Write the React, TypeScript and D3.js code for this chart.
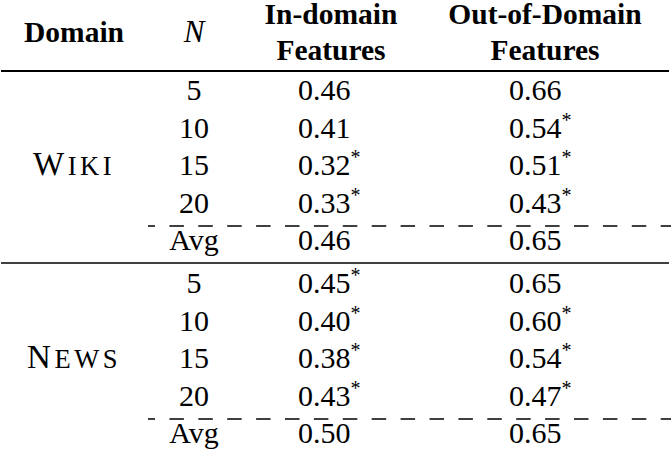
import React from 'react';
import * as d3 from 'd3';

const domains = ['Wiki', 'News'];
const nLabels = ['5', '10', '15', '20', 'Avg'];
const wikiInDomain = [0.46, 0.41, 0.32, 0.33, 0.46];
const wikiInDomainSig = [false, false, true, true, false];
const wikiOutDomain = [0.66, 0.54, 0.51, 0.43, 0.65];
const wikiOutDomainSig = [false, true, true, true, false];
const newsInDomain = [0.45, 0.40, 0.38, 0.43, 0.50];
const newsInDomainSig = [true, true, true, true, false];
const newsOutDomain = [0.65, 0.60, 0.54, 0.47, 0.65];
const newsOutDomainSig = [false, true, true, true, false];
const headerLines = [['Domain'], ['N'], ['In-domain', 'Features'], ['Out-of-Domain', 'Features']];

const columns = ['domain', 'n', 'in', 'out'];
const blocks = [
  { name: domains[0], inVals: wikiInDomain, inSig: wikiInDomainSig, outVals: wikiOutDomain, outSig: wikiOutDomainSig },
  { name: domains[1], inVals: newsInDomain, inSig: newsInDomainSig, outVals: newsOutDomain, outSig: newsOutDomainSig },
];

const W = 672;
const H = 451;
const FONT = "'Liberation Serif', 'DejaVu Serif', serif";
const fmt = d3.format('.2f');

// Small caps the LaTeX way: first letter full size, the rest smaller capitals
const SmallCaps: React.FC<{ text: string }> = ({ text }) => (
  <>
    <tspan style={{ fontSize: 33 }}>{text[0].toUpperCase()}</tspan>
    <tspan style={{ fontSize: 26.5, letterSpacing: 3.5 }} dx={3.5}>
      {text.slice(1).toUpperCase()}
    </tspan>
  </>
);

export default function App() {
  const fontSize = 30;

  // column anchors: headers are centred, numbers sit left-aligned in their columns
  const headerX = d3.scaleOrdinal<string, number>().domain(columns).range([74, 194, 331, 545]);
  const cellX = d3.scaleOrdinal<string, number>().domain(columns).range([74, 194, 298, 509]);

  // row baselines within a block, then the block offset
  const rowY = d3.scaleLinear().domain([0, 4]).range([100, 250]);
  const blockY = d3.scaleOrdinal<string, number>().domain(domains).range([0, 193]);

  const headerBase = d3.scalePoint<number>().domain([0, 1]).range([24, 60]);

  const topRule = 71;

  const txt = (extra: React.CSSProperties = {}): React.CSSProperties => ({
    fontFamily: FONT,
    fontSize,
    ...extra,
  });

  const num = (v: number, sig: boolean, x: number, y: number, key: string) => (
    <text key={key} x={x} y={y} style={txt()} textAnchor="start">
      {fmt(v)}
      {sig && (
        <tspan style={{ fontSize: 20 }} dy={-11}>
          *
        </tspan>
      )}
    </text>
  );

  return (
    <svg
      width={W}
      height={H}
      style={{ position: 'absolute', left: 0, top: 0, background: '#fff' }}
      fill="#000"
    >
      {/* header */}
      {headerLines.map((lines, ci) =>
        lines.map((line, li) => {
          const y = lines.length === 1 ? 42 : (headerBase(li) as number);
          const isN = columns[ci] === 'n';
          return (
            <text
              key={`h-${ci}-${li}`}
              x={headerX(columns[ci])}
              y={y}
              style={txt({
                fontSize: isN ? 31 : 29.5,
                fontWeight: isN ? 'normal' : 'bold',
                fontStyle: isN ? 'italic' : 'normal',
              })}
              textAnchor="middle"
            >
              {line}
            </text>
          );
        })
      )}

      <line x1={1} x2={669} y1={topRule} y2={topRule} stroke="#000" strokeWidth={2} />

      {blocks.map((b, bi) => {
        const off = blockY(b.name);
        const y = (i: number) => rowY(i) + off;
        const dashY = y(3) + 13.5;
        const ruleY = y(4) + 13;
        return (
          <g key={b.name}>
            <text x={cellX('domain')} y={y(2)} textAnchor="middle" style={txt()}>
              <SmallCaps text={b.name} />
            </text>
            {nLabels.map((n, i) => (
              <text key={`n-${i}`} x={cellX('n')} y={y(i)} style={txt()} textAnchor="middle">
                {n}
              </text>
            ))}
            {b.inVals.map((v, i) => num(v, b.inSig[i], cellX('in'), y(i), `in-${i}`))}
            {b.outVals.map((v, i) => num(v, b.outSig[i], cellX('out'), y(i), `out-${i}`))}
            <line
              x1={148}
              x2={671}
              y1={dashY}
              y2={dashY}
              stroke="#000"
              strokeWidth={1.4}
              strokeDasharray="14.5 14.4"
              strokeDashoffset={7.5}
            />
            {bi === 0 && <line x1={1} x2={669} y1={ruleY} y2={ruleY} stroke="#000" strokeWidth={1.5} />}
          </g>
        );
      })}
    </svg>
  );
}
